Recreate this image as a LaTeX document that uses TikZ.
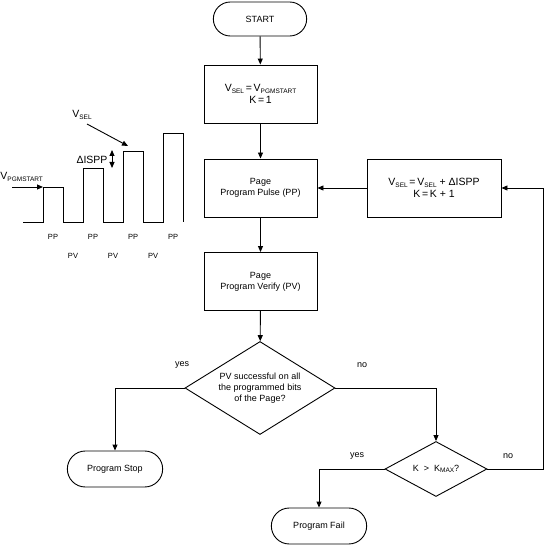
\documentclass[tikz,border=0pt]{standalone}
\usepackage{fontspec}
\setmainfont{Liberation Sans}
\usetikzlibrary{shapes.geometric,shapes.misc,arrows.meta}
\newcommand\lsub[1]{\raisebox{-0.35ex}{\fontsize{6.5}{7}\selectfont #1}}
\begin{document}
\begin{tikzpicture}[x=1pt,y=-1pt, line width=0.9pt,
  >={Triangle[length=6pt,width=5pt]},
  txt/.style={font=\fontsize{9}{11.3}\selectfont},
  big/.style={font=\fontsize{10.5}{12}\selectfont},
  term/.style={rounded rectangle, draw, txt, minimum width=102pt, minimum height=36pt},
  proc/.style={rectangle, draw, align=center, minimum width=113pt, minimum height=58pt},
  dec/.style={diamond, draw, txt, align=center, inner sep=0pt, shape aspect=1.6},
  small/.style={font=\fontsize{7.5}{9}\selectfont}]
\path[use as bounding box] (0,0) rectangle (545,545);

% flowchart
\node[term, minimum width=100pt, minimum height=34pt] (start) at (260,19) {START};
\node[proc, big] (init) at (260.5,94) {V\lsub{SEL}\,=\,V\lsub{PGMSTART}\\K\,=\,1};
\node[proc, txt] (pp) at (260.5,188) {Page\\Program Pulse (PP)};
\node[proc, txt] (pv) at (260.5,281.5) {Page\\Program Verify (PV)};
\node[proc, big, minimum width=134pt] (upd) at (434,188) {V\lsub{SEL}\,=\,V\lsub{SEL} + ΔISPP\\K\,=\,K + 1};
\node[dec, minimum width=150pt, minimum height=93pt] (d1) at (260,388) {PV successful on all\\the programmed bits\\of the Page?};
\node[term] (stop) at (115,469) {Program Stop};
\node[dec, minimum width=102pt, minimum height=55pt, shape aspect=1.85] (d2) at (436,469) {K \;>\; K\lsub{MAX}?};
\node[term] (fail) at (319,526) {Program Fail};
\coordinate (rt) at (543,469);

\draw[->] (start) -- (init);
\draw[->] (init) -- (pp);
\draw[->] (pp) -- (pv);
\draw[->] (pv) -- (d1);
\draw[->] (d1.west) -| (stop.north);
\draw[->] (d1.east) -| (d2.north);
\draw[->] (d2.west) -| (fail.north);
\draw[->] (d2.east) -- (rt) |- (upd.east);
\draw[->] (upd) -- (pp);

\node[txt] (y1) at (182,365) {yes};
\node[txt] (n1) at (362,365) {no};
\node[txt] (y2) at (357,456) {yes};
\node[txt] (n2) at (508,456) {no};

% waveform
\draw (23,222) -- (43,222) -- (43,187) -- (63,187) -- (63,222) -- (83,222) -- (83,168)
  -- (103,168) -- (103,222) -- (123,222) -- (123,151) -- (143,151) -- (143,222)
  -- (163,222) -- (163,133) -- (183,133) -- (183,222);
\node[big, anchor=west, inner sep=0pt] (vpg) at (0,177) {V\lsub{PGMSTART}};
\coordinate (a1s) at (12,187);
\coordinate (a1e) at (43,187);
\draw[->] (a1s) -- (a1e);
\node[big, inner sep=0pt] (vsel) at (82,115) {V\lsub{SEL}};
\coordinate (a2s) at (87,124);
\coordinate (a2e) at (128,146);
\draw[->] (a2s) -- (a2e);
\node[big, inner sep=0pt] (disp) at (92,160) {ΔISPP};
\coordinate (a3s) at (112,150);
\coordinate (a3e) at (112,168);
\draw[<->] (a3s) -- (a3e);
\foreach \x/\n in {53/1,93/2,133/3,173/4} \node[small] (pp\n) at (\x,237) {PP};
\foreach \x/\n in {73/1,113/2,153/3} \node[small] (pv\n) at (\x,256) {PV};
\end{tikzpicture}
\end{document}
